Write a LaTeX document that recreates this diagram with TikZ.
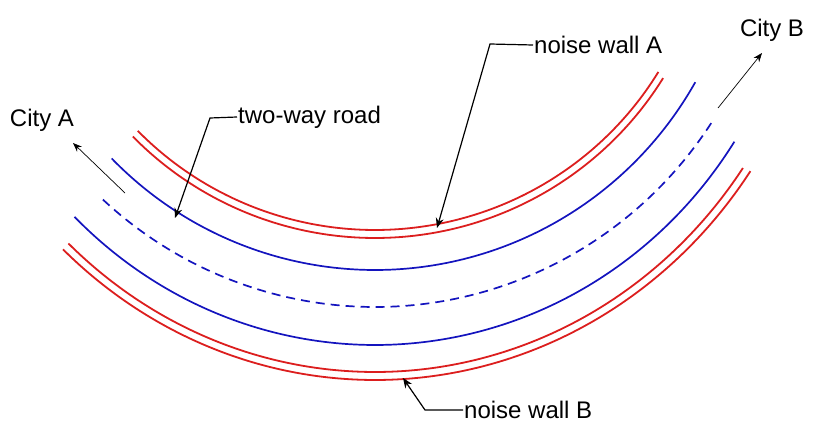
\documentclass[tikz,border=0pt]{standalone}
\usepackage{fontspec}
\setmainfont{Liberation Sans}
\usetikzlibrary{arrows.meta}
\begin{document}
\begin{tikzpicture}[x=1pt,y=-1pt,
  red/.style={draw={rgb,255:red,220;green,30;blue,30},line width=1.8pt},
  blue/.style={draw={rgb,255:red,20;green,20;blue,190},line width=1.7pt},
  lead/.style={draw=black,line width=1.2pt,-{Stealth[length=10pt,width=8pt]}},
  thin lead/.style={draw=black,line width=0.7pt,-{Stealth[length=9pt,width=7pt]}},
  lbl/.style={font=\fontsize{24}{28}\selectfont,inner sep=1pt}]
\useasboundingbox (0,0) rectangle (821,428);
\coordinate (c) at (375,-100);
\newcommand{\myarc}[5]{\draw[#1] ([shift={(#2:#4 and #5)}]c) arc[start angle=#2,end angle=#3,x radius=#4,y radius=#5];}
\myarc{red}{135.6}{31.4}{332}{330}
\myarc{red}{135.6}{31.8}{339}{338}
\myarc{blue}{135.7}{29.5}{368}{370}
\myarc{blue,dash pattern=on 9pt off 6pt}{132.6}{32.8}{402}{407}
\myarc{blue}{134.6}{32.9}{428}{445}
\myarc{red}{133.3}{34.6}{447}{472}
\myarc{red}{133.3}{34.4}{455}{480}
% labels
\node[lbl,anchor=west] (nwa) at (533,45) {noise wall A};
\coordinate (nwa1) at (490,44);
\coordinate (nwaT) at (437,228);
\draw[lead] (nwa.west) -- (nwa1) -- (nwaT);
\node[lbl] (cb) at (772,30) {City B};
\coordinate (cb0) at (718,108);
\coordinate (cb1) at (762,53);
\draw[thin lead] (cb0) -- (cb1);
\node[lbl] (ca) at (42,120) {City A};
\coordinate (ca0) at (125,193);
\coordinate (ca1) at (73,143);
\draw[thin lead] (ca0) -- (ca1);
\node[lbl,anchor=west] (tw) at (237,117) {two-way road};
\coordinate (tw1) at (210,118);
\coordinate (twT) at (175,218);
\draw[lead] (tw.west) -- (tw1) -- (twT);
\node[lbl,anchor=west] (nwb) at (463,410) {noise wall B};
\coordinate (nwb1) at (425,410);
\coordinate (nwbT) at (403,378);
\draw[lead] (nwb.west) -- (nwb1) -- (nwbT);
\end{tikzpicture}
\end{document}
